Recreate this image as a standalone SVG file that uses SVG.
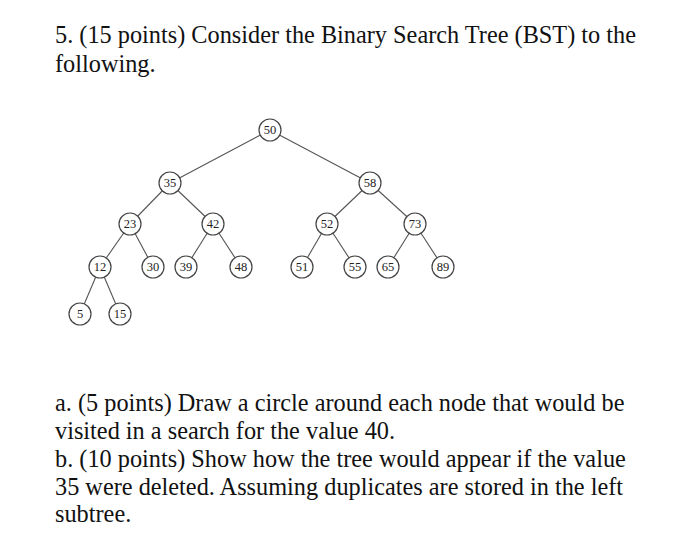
<svg xmlns="http://www.w3.org/2000/svg" width="700" height="540" viewBox="0 0 700 540">
<style>
.t{font-family:"Liberation Serif",serif;font-size:24.3px;fill:#111}
.n circle{fill:#fff;stroke:#444;stroke-width:1.2}
.n text{font-family:"Liberation Serif",serif;font-size:12.5px;fill:#222;text-anchor:middle}
#edges line{stroke:#555;stroke-width:1.1}
</style>
<rect width="700" height="540" fill="#fff"/>
<text class="t" x="55" y="43">5. (15 points) Consider the Binary Search Tree (BST) to the</text>
<text class="t" x="55" y="72">following.</text>
<g id="edges">
<line x1="270" y1="130" x2="170" y2="183"/><line x1="270" y1="130" x2="370" y2="183"/>
<line x1="170" y1="183" x2="130" y2="224"/><line x1="170" y1="183" x2="213" y2="224"/>
<line x1="370" y1="183" x2="327" y2="224"/><line x1="370" y1="183" x2="415" y2="224"/>
<line x1="130" y1="224" x2="100" y2="267"/><line x1="130" y1="224" x2="153" y2="267"/>
<line x1="213" y1="224" x2="186" y2="267"/><line x1="213" y1="224" x2="241" y2="267"/>
<line x1="327" y1="224" x2="302" y2="267"/><line x1="327" y1="224" x2="355" y2="267"/>
<line x1="415" y1="224" x2="388" y2="267"/><line x1="415" y1="224" x2="443" y2="267"/>
<line x1="100" y1="267" x2="80" y2="314"/><line x1="100" y1="267" x2="120" y2="314"/>
</g>
<g id="n50" class="n"><circle cx="270" cy="130" r="11"/><text x="270" y="134">50</text></g>
<g id="n35" class="n"><circle cx="170" cy="183" r="11"/><text x="170" y="187">35</text></g>
<g id="n58" class="n"><circle cx="370" cy="183" r="11"/><text x="370" y="187">58</text></g>
<g id="n23" class="n"><circle cx="130" cy="224" r="11"/><text x="130" y="228">23</text></g>
<g id="n42" class="n"><circle cx="213" cy="224" r="11"/><text x="213" y="228">42</text></g>
<g id="n52" class="n"><circle cx="327" cy="224" r="11"/><text x="327" y="228">52</text></g>
<g id="n73" class="n"><circle cx="415" cy="224" r="11"/><text x="415" y="228">73</text></g>
<g id="n12" class="n"><circle cx="100" cy="267" r="11"/><text x="100" y="271">12</text></g>
<g id="n30" class="n"><circle cx="153" cy="267" r="11"/><text x="153" y="271">30</text></g>
<g id="n39" class="n"><circle cx="186" cy="267" r="11"/><text x="186" y="271">39</text></g>
<g id="n48" class="n"><circle cx="241" cy="267" r="11"/><text x="241" y="271">48</text></g>
<g id="n51" class="n"><circle cx="302" cy="267" r="11"/><text x="302" y="271">51</text></g>
<g id="n55" class="n"><circle cx="355" cy="267" r="11"/><text x="355" y="271">55</text></g>
<g id="n65" class="n"><circle cx="388" cy="267" r="11"/><text x="388" y="271">65</text></g>
<g id="n89" class="n"><circle cx="443" cy="267" r="11"/><text x="443" y="271">89</text></g>
<g id="n5" class="n"><circle cx="80" cy="314" r="11"/><text x="80" y="318">5</text></g>
<g id="n15" class="n"><circle cx="120" cy="314" r="11"/><text x="120" y="318">15</text></g>
<text class="t" x="55" y="411">a. (5 points) Draw a circle around each node that would be</text>
<text class="t" x="55" y="439">visited in a search for the value 40.</text>
<text class="t" x="55" y="467">b. (10 points) Show how the tree would appear if the value</text>
<text class="t" x="55" y="495">35 were deleted. Assuming duplicates are stored in the left</text>
<text class="t" x="55" y="522">subtree.</text>
</svg>
